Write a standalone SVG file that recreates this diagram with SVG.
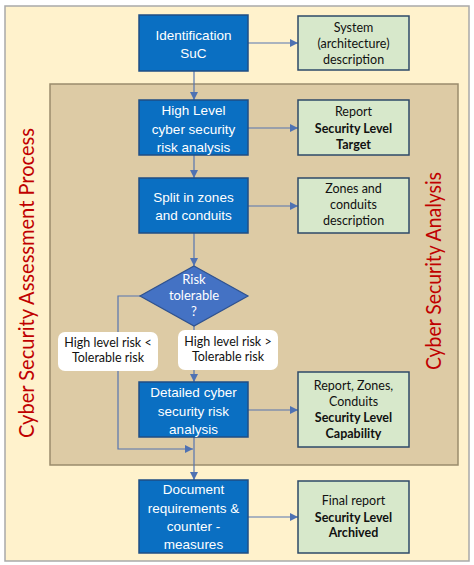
<svg xmlns="http://www.w3.org/2000/svg" width="474" height="565" viewBox="0 0 474 565">
<defs>
<marker id="ah" viewBox="0 0 10 10" refX="10" refY="5" markerWidth="8" markerHeight="8" markerUnits="userSpaceOnUse" orient="auto">
<path d="M0,0 L10,5 L0,10 z" fill="#4F72B3"/>
</marker>
<style>
.blue{fill:#0A6FC2;stroke:#1F4E84;stroke-width:1.5}
.green{fill:#D7E8CB;stroke:#2E4A68;stroke-width:1.5}
.bt{font-family:"Liberation Sans",Arial,sans-serif;font-size:13.5px;fill:#FFFFFF;text-anchor:middle}
.gt{font-family:Lato,"Open Sans",sans-serif;font-size:12.5px;fill:#111111;text-anchor:middle}
.b{font-weight:bold}
.lt{font-family:Lato,"Open Sans",sans-serif;font-size:12.5px;fill:#111111;text-anchor:middle}
.dt{font-family:Lato,"Open Sans",sans-serif;font-size:13px;fill:#FFFFFF;text-anchor:middle}
.red{font-family:Lato,"Open Sans",sans-serif;fill:#C00000;text-anchor:middle}
.con{fill:none;stroke:#5675B0;stroke-width:1.2}
</style>
</defs>
<rect x="0" y="0" width="474" height="565" fill="#FFFFFF"/>
<g id="outer">
<rect x="5" y="6" width="464" height="555" fill="#FFF2CC" stroke="#A9A9A9" stroke-width="1.5"/>
<text class="red" font-size="21" transform="translate(34,283) rotate(-90)" textLength="310" lengthAdjust="spacingAndGlyphs">Cyber Security Assessment Process</text>
</g>
<g id="inner">
<rect x="50" y="84" width="408" height="381" fill="#DDCBA5" stroke="#9A8C6C" stroke-width="1.5"/>
<text class="red" font-size="21" transform="translate(441,271) rotate(-90)" textLength="198" lengthAdjust="spacingAndGlyphs">Cyber Security Analysis</text>
</g>
<g id="connectors">
<line class="con" x1="194" y1="71" x2="194" y2="100" marker-end="url(#ah)"/>
<line class="con" x1="194" y1="155" x2="194" y2="178" marker-end="url(#ah)"/>
<line class="con" x1="194" y1="233" x2="194" y2="266" marker-end="url(#ah)"/>
<line class="con" x1="194" y1="326" x2="194" y2="382" marker-end="url(#ah)"/>
<polyline class="con" points="140,296 118,296 118,449 193,449" marker-end="url(#ah)"/>
<line class="con" x1="194" y1="437" x2="194" y2="480" marker-end="url(#ah)"/>
<line class="con" x1="248" y1="43" x2="298" y2="43" marker-end="url(#ah)"/>
<line class="con" x1="248" y1="128" x2="298" y2="128" marker-end="url(#ah)"/>
<line class="con" x1="248" y1="206" x2="298" y2="206" marker-end="url(#ah)"/>
<line class="con" x1="248" y1="410" x2="298" y2="410" marker-end="url(#ah)"/>
<line class="con" x1="248" y1="517" x2="298" y2="517" marker-end="url(#ah)"/>
</g>
<g id="identification">
<rect class="blue" x="139" y="15" width="109" height="56"/>
<text class="bt" x="193.5" y="39.5">Identification</text>
<text class="bt" x="193.5" y="58">SuC</text>
</g>
<g id="system">
<rect class="green" x="298" y="16" width="111" height="54"/>
<text class="gt" x="353.5" y="32">System</text>
<text class="gt" x="353.5" y="48">(architecture)</text>
<text class="gt" x="353.5" y="64">description</text>
</g>
<g id="highlevel">
<rect class="blue" x="139" y="100" width="109" height="55"/>
<text class="bt" x="193.5" y="115">High Level</text>
<text class="bt" x="193.5" y="133.5">cyber security</text>
<text class="bt" x="193.5" y="152">risk analysis</text>
</g>
<g id="report">
<rect class="green" x="298" y="100" width="111" height="55"/>
<text class="gt" x="353.5" y="116">Report</text>
<text class="gt b" x="353.5" y="132.5">Security Level</text>
<text class="gt b" x="353.5" y="148.5">Target</text>
</g>
<g id="split">
<rect class="blue" x="139" y="178" width="109" height="55"/>
<text class="bt" x="193.5" y="202">Split in zones</text>
<text class="bt" x="193.5" y="220">and conduits</text>
</g>
<g id="zones">
<rect class="green" x="298" y="178" width="111" height="55"/>
<text class="gt" x="353.5" y="193">Zones and</text>
<text class="gt" x="353.5" y="209">conduits</text>
<text class="gt" x="353.5" y="225">description</text>
</g>
<g id="decision">
<polygon points="194,266 248,296 194,326 140,296" fill="#4472C4" stroke="#2F528F" stroke-width="1.2"/>
<text class="dt" x="194" y="284">Risk</text>
<text class="dt" x="194" y="300">tolerable</text>
<text class="dt" x="194" y="316">?</text>
</g>
<g id="label-lower">
<rect x="58" y="332" width="100" height="39" rx="7" fill="#FFFFFF"/>
<text class="lt" x="108" y="347">High level risk &lt;</text>
<text class="lt" x="108" y="362">Tolerable risk</text>
</g>
<g id="label-higher">
<rect x="178" y="330" width="100" height="40" rx="7" fill="#FFFFFF"/>
<text class="lt" x="228" y="346">High level risk &gt;</text>
<text class="lt" x="228" y="361">Tolerable risk</text>
</g>
<g id="detailed">
<rect class="blue" x="139" y="382" width="109" height="55"/>
<text class="bt" x="193.5" y="397">Detailed cyber</text>
<text class="bt" x="193.5" y="416">security risk</text>
<text class="bt" x="193.5" y="434">analysis</text>
</g>
<g id="capability">
<rect class="green" x="298" y="372" width="111" height="75"/>
<text class="gt" x="353.5" y="390">Report, Zones,</text>
<text class="gt" x="353.5" y="406">Conduits</text>
<text class="gt b" x="353.5" y="422">Security Level</text>
<text class="gt b" x="353.5" y="438">Capability</text>
</g>
<g id="document">
<rect class="blue" x="139" y="480" width="109" height="73"/>
<text class="bt" x="193.5" y="494">Document</text>
<text class="bt" x="193.5" y="512.5">requirements &amp;</text>
<text class="bt" x="193.5" y="531">counter -</text>
<text class="bt" x="193.5" y="549">measures</text>
</g>
<g id="final">
<rect class="green" x="298" y="481" width="111" height="72"/>
<text class="gt" x="353.5" y="505">Final report</text>
<text class="gt b" x="353.5" y="521.5">Security Level</text>
<text class="gt b" x="353.5" y="537">Archived</text>
</g>
</svg>
